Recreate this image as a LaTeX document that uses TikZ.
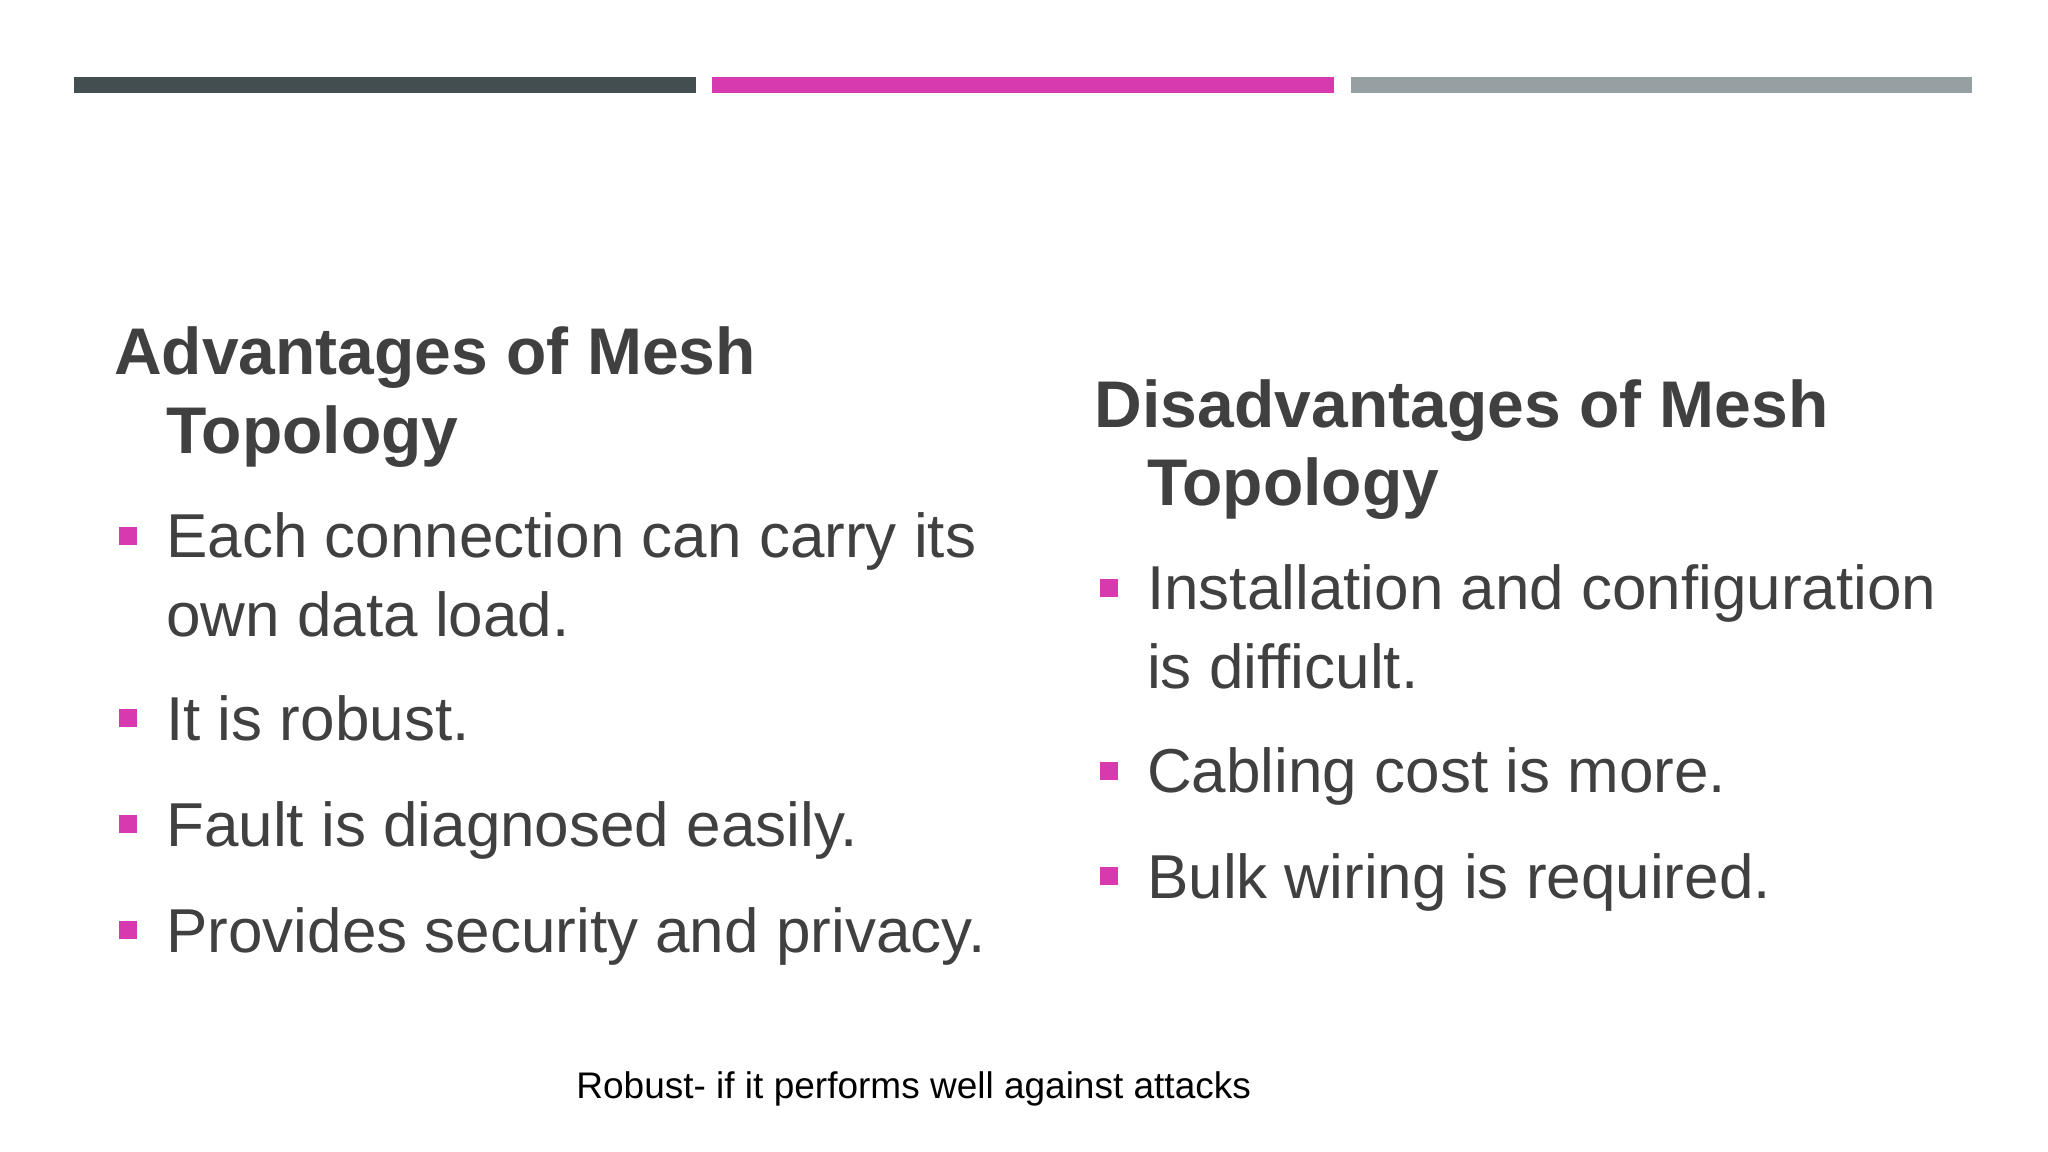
\documentclass[tikz,border=0pt]{standalone}
\usepackage{fontspec}
\setmainfont{Liberation Sans}
\definecolor{txt}{HTML}{404040}
\definecolor{mag}{HTML}{D63AAE}
\definecolor{dk}{HTML}{434E50}
\definecolor{gr}{HTML}{96A0A3}
\begin{document}
\begin{tikzpicture}[x=0.653pt,y=-0.653pt,
 ttl/.style={anchor=base west,inner sep=0,text=txt,font=\fontsize{33}{33}\selectfont\bfseries},
 itm/.style={anchor=base west,inner sep=0,text=txt,font=\fontsize{31}{31}\selectfont},
 bul/.style={fill=mag,minimum size=9pt,inner sep=0}]
\useasboundingbox[fill=white] (0,0) rectangle (1568,882);
\fill[dk] (57,59) rectangle (533,71);
\fill[mag] (545,59) rectangle (1021,71);
\fill[gr] (1034,59) rectangle (1510,71);
\node[ttl] (t1) at (87,287) {Advantages of Mesh};
\node[ttl] (t1b) at (127,347) {Topology};
\node[itm] (a1) at (127,427) {Each connection can carry its};
\node[itm] (a1b) at (127,487) {own data load.};
\node[itm] (a2) at (127,567) {It is robust.};
\node[itm] (a3) at (127,648) {Fault is diagnosed easily.};
\node[itm] (a4) at (127,729) {Provides security and privacy.};
\foreach \y/\n in {427/1,567/2,648/3,729/4}{\node[bul] (ba\n) at (98,\y-17) {};}
\node[ttl] (t2) at (838,327) {Disadvantages of Mesh};
\node[ttl] (t2b) at (878,387) {Topology};
\node[itm] (d1) at (878,467) {Installation and configuration};
\node[itm] (d1b) at (878,527) {is difficult.};
\node[itm] (d2) at (878,607) {Cabling cost is more.};
\node[itm] (d3) at (878,688) {Bulk wiring is required.};
\foreach \y/\n in {467/1,607/2,688/3}{\node[bul] (bd\n) at (849,\y-17) {};}
\node[anchor=base west,inner sep=0,font=\fontsize{18.5}{18.5}\selectfont] (fn) at (441,841) {Robust- if it performs well against attacks};
\end{tikzpicture}
\end{document}
